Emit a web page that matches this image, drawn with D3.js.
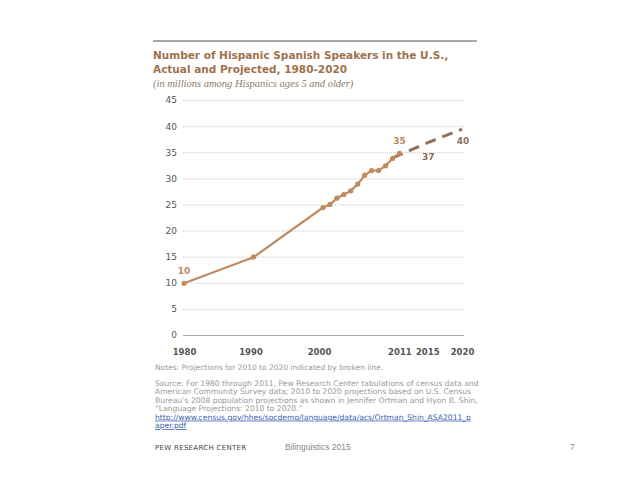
<!DOCTYPE html>
<html>
<head>
<meta charset="utf-8">
<script src="https://cdn.jsdelivr.net/npm/d3@7"></script>
<style>
  body { margin: 0; background: #fff; }
  svg text { font-family: "DejaVu Sans", Verdana, sans-serif; }
</style>
</head>
<body>
<svg id="chart" width="638" height="493"></svg>
<script>
// Actual values (millions)
var actualYears = [1980, 1990, 2000, 2001, 2002, 2003, 2004, 2005, 2006, 2007, 2008, 2009, 2010, 2011];
var actualValues = [9.9, 14.9, 24.4, 25.0, 26.2, 26.9, 27.6, 28.9, 30.6, 31.5, 31.5, 32.4, 33.8, 34.8];

// Projected values (broken line)
var projYears = [2010, 2015, 2020];
var projValues = [33.9, 36.8, 39.4];

var yTicks = [0, 5, 10, 15, 20, 25, 30, 35, 40, 45];
var xTicks = [1980, 1990, 2000, 2011, 2015, 2020];

// value labels on the line
var labelYears = [1980, 2011, 2015, 2020];
var labelTexts = ['10', '35', '37', '40'];
var labelValues = [9.9, 34.8, 36.8, 39.4];

var noteLines = ['Notes: Projections for 2010 to 2020 indicated by broken line.'];
var sourceLines = [
    'Source: For 1980 through 2011, Pew Research Center tabulations of census data and',
    'American Community Survey  data; 2010 to 2020 projections based on U.S. Census',
    'Bureau\u2019s 2008 population projections as shown in Jennifer Ortman and Hyon B. Shin,',
    '\u201cLanguage Projections: 2010 to 2020.\u201d'
];
var linkLines = [
    'http://www.census.gov/hhes/socdemo/language/data/acs/Ortman_Shin_ASA2011_p',
    'aper.pdf'
];

var svg = d3.select('#chart');

var solidColor = '#bf8a5e';
var dashColor = '#937058';

// title block
svg.append('line')
    .attr('x1', 153).attr('x2', 477)
    .attr('y1', 41).attr('y2', 41)
    .style('stroke', '#555').style('stroke-width', 1);

svg.append('text')
    .attr('x', 153).attr('y', 59)
    .style('font-size', '10.5px').style('font-weight', 'bold')
    .style('fill', '#a0714b')
    .text('Number of Hispanic Spanish Speakers in the U.S.,');
svg.append('text')
    .attr('x', 153).attr('y', 73)
    .style('font-size', '10.5px').style('font-weight', 'bold')
    .style('fill', '#a0714b')
    .text('Actual and Projected, 1980-2020');
svg.append('text')
    .attr('x', 153).attr('y', 87)
    .style('font-family', '"Liberation Serif", Georgia, serif')
    .style('font-style', 'italic')
    .style('font-size', '10.5px')
    .style('fill', '#8a7a6e')
    .text('(in millions among Hispanics ages 5 and older)');

// scales
var xScale = d3.scaleLinear().domain([1980, 2020]).range([184, 462]);
var yScale = d3.scaleLinear().domain([0, 45]).range([335, 100]);

// gridlines
var gridG = svg.append('g')
    .attr('transform', 'translate(183,0)')
    .call(d3.axisRight(yScale).tickValues(yTicks).tickSize(281).tickFormat(''));
gridG.select('.domain').remove();
gridG.selectAll('.tick line')
    .style('stroke', function(d) { return d == 0 ? '#aaa' : '#c8c8c8'; })
    .style('stroke-dasharray', function(d) { return d == 0 ? null : '1,1'; });

// y axis labels
var yAxisG = svg.append('g')
    .attr('transform', 'translate(177,0)')
    .call(d3.axisLeft(yScale).tickValues(yTicks).tickSize(0).tickPadding(0));
yAxisG.select('.domain').remove();
yAxisG.selectAll('.tick text')
    .style('font-family', '"DejaVu Sans", Verdana, sans-serif')
    .style('font-size', '9px')
    .style('fill', '#555');

// x axis labels (the original nudges a couple of them left)
var xLabelNudge = {1990: -3, 2000: -4};
var xAxisG = svg.append('g')
    .attr('transform', 'translate(0,349)')
    .call(d3.axisBottom(xScale).tickValues(xTicks).tickSize(0).tickPadding(0).tickFormat(d3.format('d')));
xAxisG.select('.domain').remove();
xAxisG.selectAll('.tick text')
    .attr('dx', function(d) { return xLabelNudge[d] || 0; })
    .style('font-family', '"DejaVu Sans", Verdana, sans-serif')
    .style('font-size', '8.5px')
    .style('font-weight', 'bold')
    .style('fill', '#555');

var actual = actualYears.map(function(y, i) { return {year: y, value: actualValues[i]}; });
var proj = projYears.map(function(y, i) { return {year: y, value: projValues[i]}; });

var line = d3.line()
    .x(function(d) { return xScale(d.year); })
    .y(function(d) { return yScale(d.value); });

svg.append('path')
    .datum(proj)
    .attr('d', line)
    .style('fill', 'none')
    .style('stroke', dashColor)
    .style('stroke-width', 3)
    .style('stroke-dasharray', '11,7');

svg.append('path')
    .datum(actual)
    .attr('d', line)
    .style('fill', 'none')
    .style('stroke', solidColor)
    .style('stroke-width', 2.2);

svg.selectAll('.dot')
    .data(actual).enter()
    .append('circle')
    .attr('class', 'dot')
    .attr('cx', function(d) { return xScale(d.year); })
    .attr('cy', function(d) { return yScale(d.value); })
    .attr('r', 2.6)
    .style('fill', solidColor);

// value labels
var labelOffsets = [[0, -9], [0, -9], [1, 17], [1, 15]];
var labelColors = [solidColor, solidColor, '#8a7060', '#8a7060'];
svg.selectAll('.vlabel')
    .data(labelTexts).enter()
    .append('text')
    .attr('class', 'vlabel')
    .attr('x', function(d, i) { return xScale(labelYears[i]) + labelOffsets[i][0]; })
    .attr('y', function(d, i) { return yScale(labelValues[i]) + labelOffsets[i][1]; })
    .attr('text-anchor', 'middle')
    .style('font-size', '9px')
    .style('font-weight', 'bold')
    .style('fill', function(d, i) { return labelColors[i]; })
    .text(function(d) { return d; });

// notes and source
svg.selectAll('.note')
    .data(noteLines).enter()
    .append('text')
    .attr('x', 155).attr('y', 370)
    .style('font-size', '7.5px')
    .style('fill', '#999')
    .text(function(d) { return d; });

svg.selectAll('.src')
    .data(sourceLines).enter()
    .append('text')
    .attr('x', 155)
    .attr('y', function(d, i) { return 386 + i * 8.4; })
    .style('font-size', '7.6px')
    .style('fill', '#999')
    .text(function(d) { return d; });

svg.selectAll('.link')
    .data(linkLines).enter()
    .append('text')
    .attr('x', 155)
    .attr('y', function(d, i) { return 419.6 + i * 8.4; })
    .style('font-size', '7.6px')
    .style('fill', '#3b5fb0')
    .style('text-decoration', 'underline')
    .text(function(d) { return d; });

// footer
svg.append('text')
    .attr('x', 155).attr('y', 450)
    .style('font-size', '7px')
    .style('fill', '#444')
    .style('letter-spacing', '0.3px')
    .text('PEW RESEARCH CENTER');
svg.append('text')
    .attr('x', 285).attr('y', 450)
    .style('font-family', '"Liberation Sans", Arial, sans-serif')
    .style('font-size', '8.5px')
    .style('fill', '#888')
    .text('Bilinguistics 2015');
svg.append('text')
    .attr('x', 570).attr('y', 450)
    .style('font-family', '"Liberation Sans", Arial, sans-serif')
    .style('font-size', '8.5px')
    .style('fill', '#888')
    .text('7');
</script>
</body>
</html>
